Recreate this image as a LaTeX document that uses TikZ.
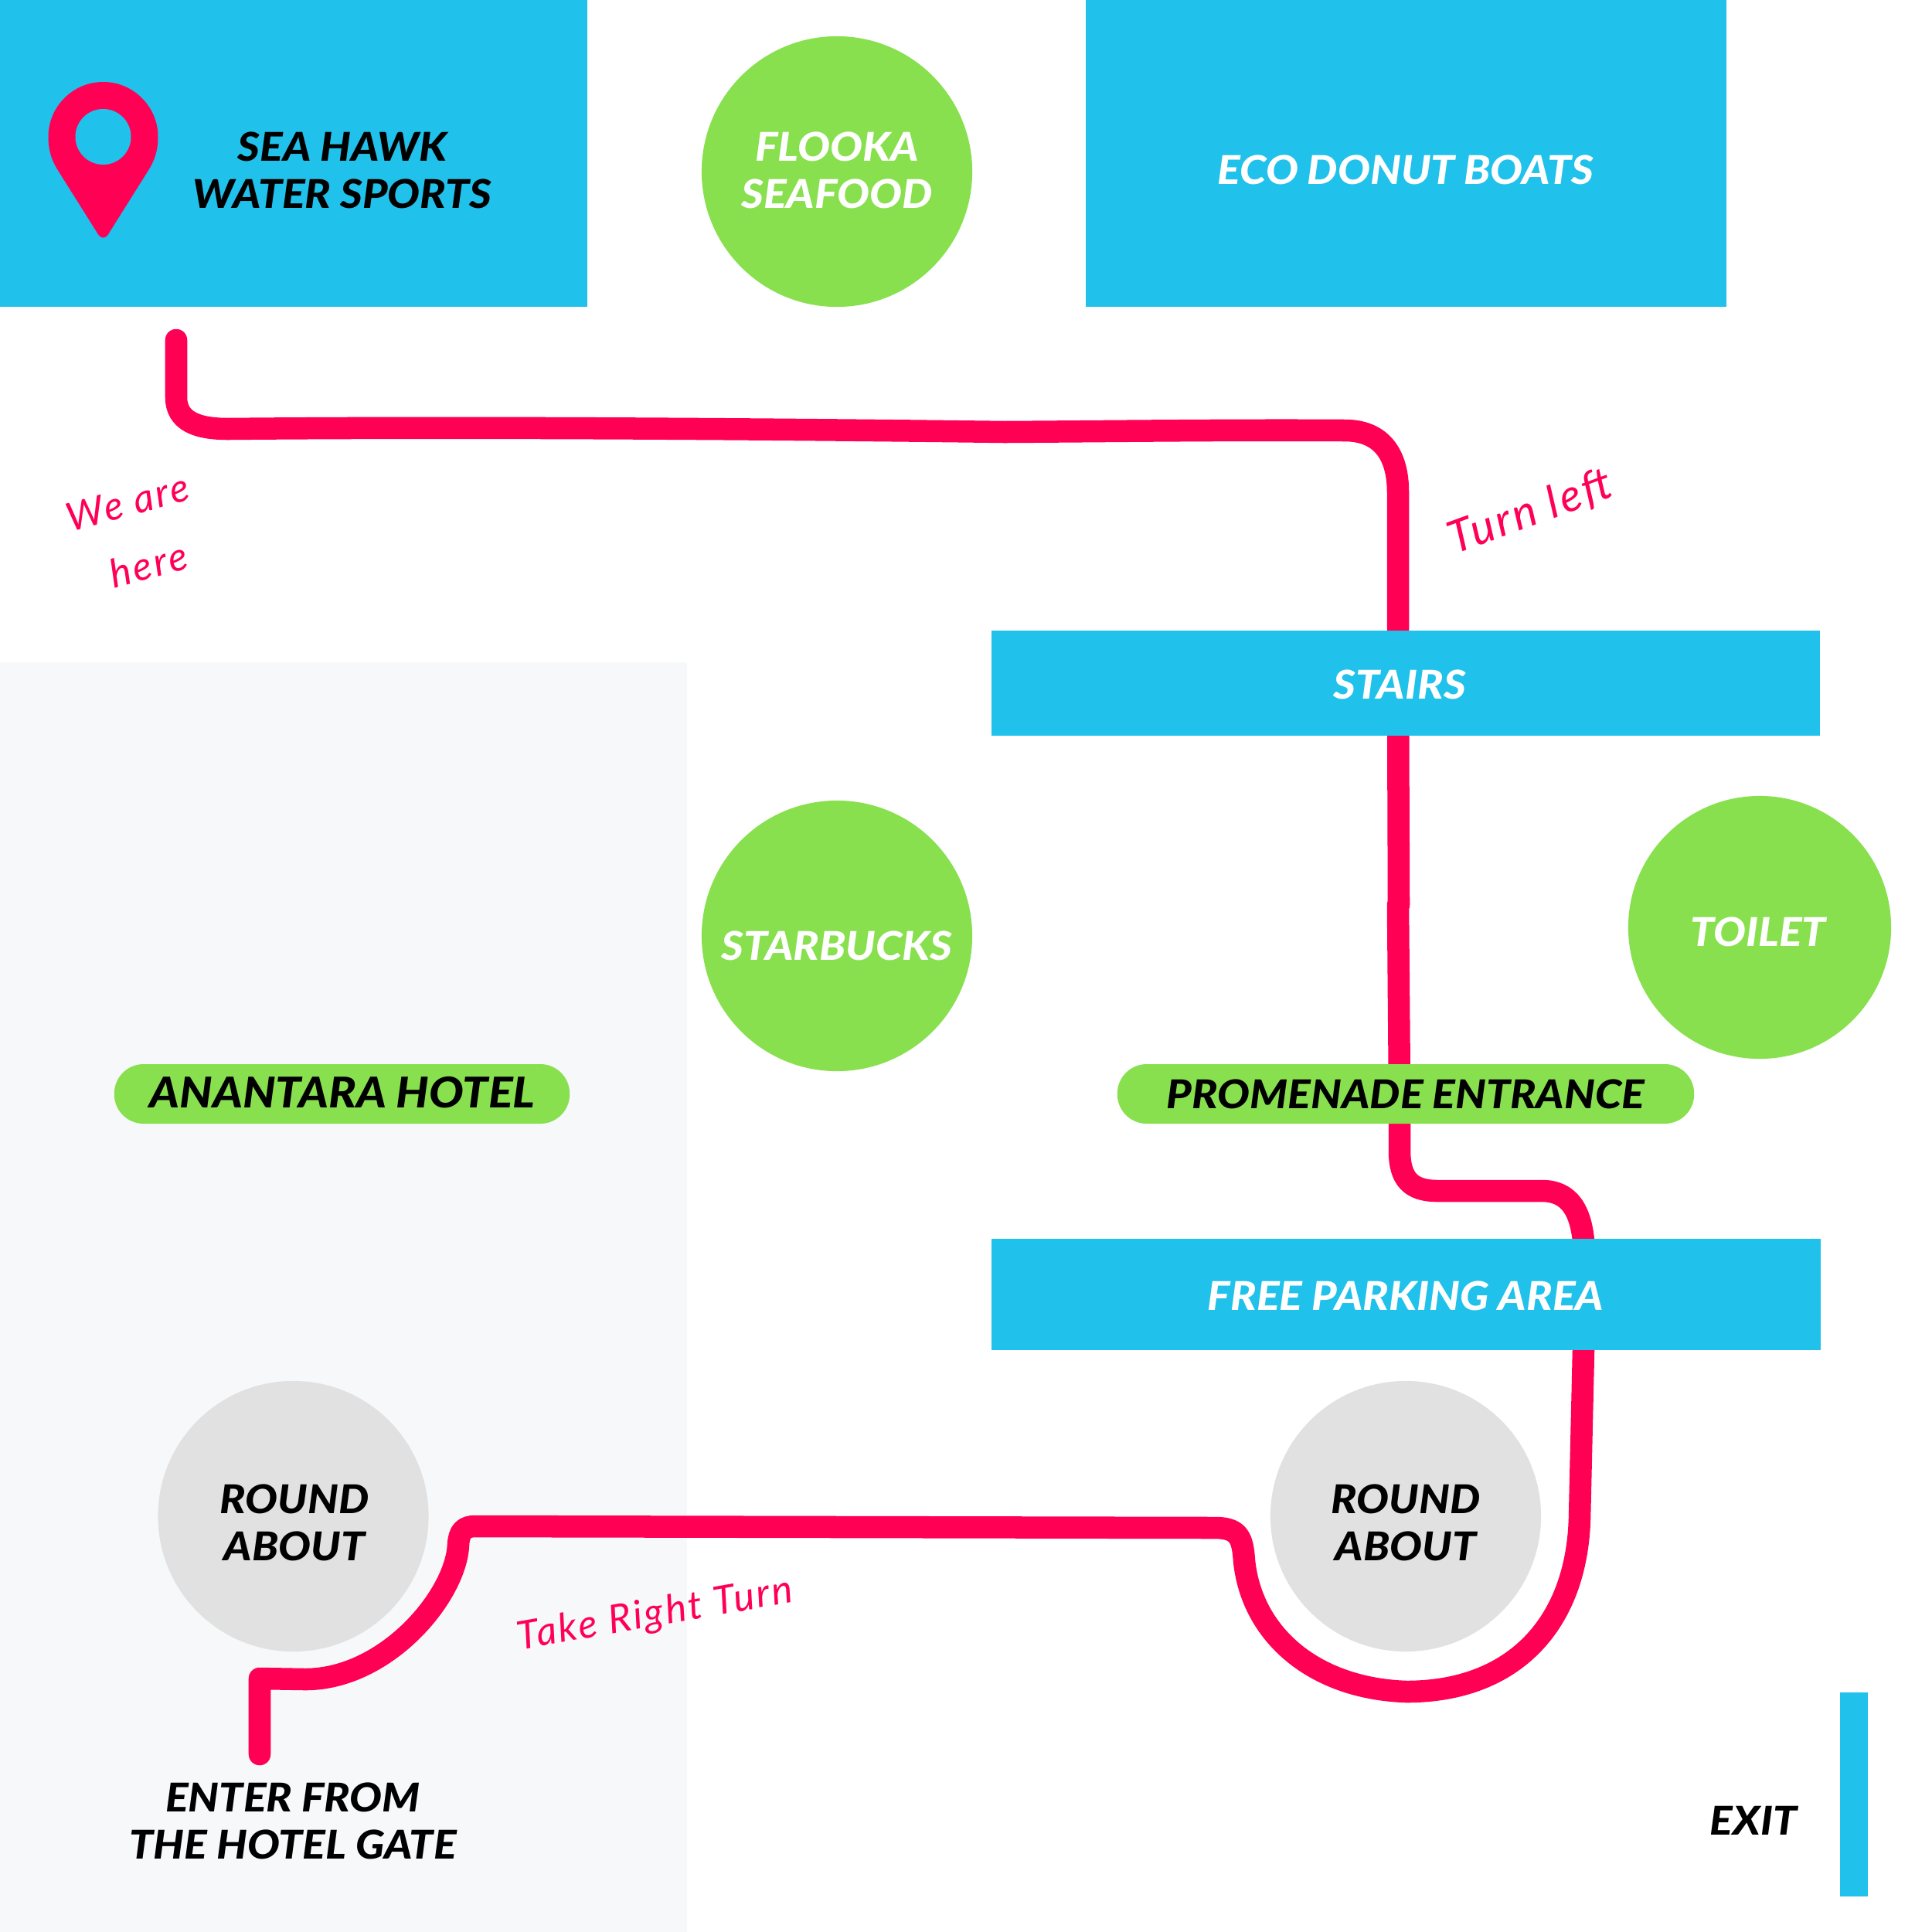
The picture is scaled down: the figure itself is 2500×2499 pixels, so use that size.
\documentclass[tikz,border=0pt]{standalone}
\usepackage{fontspec}
\setmainfont{Lato}[BoldItalicFont={Lato Black Italic},BoldItalicFeatures={FakeStretch=1.08}]
\newfontfamily\handfont[LetterSpace=6]{Lato}
\usetikzlibrary{backgrounds}
\definecolor{skyb}{HTML}{20C1EB}
\definecolor{leaf}{HTML}{88E04F}
\definecolor{hotp}{HTML}{FF0055}
\definecolor{greyc}{HTML}{E1E1E1}
\definecolor{panelc}{HTML}{F6F8FA}
\tikzset{
  shapebase/.style={inner sep=0pt,outer sep=0pt,align=center,draw=none},
  bluebox/.style={shapebase,rectangle,fill=skyb},
  greencirc/.style={shapebase,circle,fill=leaf},
  greycirc/.style={shapebase,circle,fill=greyc,minimum size=3.5cm},
  greenpill/.style={shapebase,rectangle,rounded corners=0.38cm,fill=leaf,minimum height=0.77cm},
  tag/.style={inner sep=0pt,outer sep=0pt,align=center,font=\bfseries\itshape\fontsize{14.6}{17.3}\selectfont},
  hand/.style={inner sep=0pt,outer sep=0pt,text=hotp,font=\handfont\itshape\fontsize{14.5}{16}\selectfont},
  routeline/.style={draw=hotp,line width=0.285cm,line join=round}
}
\begin{document}
\begin{tikzpicture}[x=0.01cm,y=-0.01cm]
\useasboundingbox (0,0) rectangle (2500,2499);

% boxes
\node[bluebox,minimum width=7.6cm,minimum height=3.97cm] (seahawk) at (380,198.5) {};
\node[bluebox,minimum width=8.29cm,minimum height=3.97cm] (eco) at (1819.5,198.5) {};
\node[bluebox,minimum width=10.72cm,minimum height=1.36cm] (stairs) at (1819,884) {};
\node[bluebox,minimum width=10.73cm,minimum height=1.44cm] (parking) at (1819.5,1675) {};
\node[bluebox,minimum width=0.36cm,minimum height=2.64cm] (exitbar) at (2399,2322) {};

% circles
\node[greencirc,minimum size=3.5cm] (flooka) at (1083,222) {};
\node[greencirc,minimum size=3.5cm] (starbucks) at (1083,1211) {};
\node[greencirc,minimum size=3.4cm] (toilet) at (2277,1200) {};
\node[greycirc] (roundL) at (379.5,1962) {};
\node[greycirc] (roundR) at (1819,1962) {};

% pills
\node[greenpill,minimum width=5.89cm] (anantara) at (442.5,1415.5) {};
\node[greenpill,minimum width=7.46cm] (promenade) at (1819,1415.5) {};

% labels
\node[tag,text=black] (seahawkt) at (443,220) {SEA HAWK\\WATER SPORTS};
\node[tag,text=white] (flookat) at (1083,220) {FLOOKA\\SEAFOOD};
\node[tag,text=white] (ecot) at (1819,220) {ECO DONUT BOATS};
\node[tag,text=white] (stairst) at (1811,886) {STAIRS};
\node[tag,text=white] (parkingt) at (1819,1677) {FREE PARKING AREA};
\node[tag,text=white] (starbuckst) at (1083,1224) {STARBUCKS};
\node[tag,text=white] (toilett) at (2275,1206) {TOILET};
\node[tag,text=black,font=\bfseries\itshape\fontsize{15.6}{17.3}\selectfont] (anantarat) at (443,1414) {ANANTARA HOTEL};
\node[tag,text=black] (promenadet) at (1819,1416) {PROMENADE ENTRANCE};
\node[tag,text=black] (roundLt) at (381,1970) {ROUND\\ABOUT};
\node[tag,text=black] (roundRt) at (1819,1970) {ROUND\\ABOUT};
\node[tag,text=black] (entert) at (379,2356) {ENTER FROM\\THE HOTEL GATE};
\node[tag,text=black] (exitt) at (2269,2356) {EXIT};

% handwritten notes
\node[hand,rotate=15] (weare) at (165,650) {We are};
\node[hand,rotate=15] (here) at (192,730) {here};
\node[hand,rotate=20,font=\handfont\itshape\fontsize{16.5}{18}\selectfont] (turnleft) at (1980,663) {Turn left};
\node[hand,rotate=10] (takeright) at (848,2090) {Take Right Turn};

% pin
\fill[hotp] (62.5,177) .. controls (62.5,195) and (67,208) .. (76,222)
  -- (125,300) .. controls (130,310) and (137,310) .. (142,300)
  -- (191,222) .. controls (200,208) and (204.5,195) .. (204.5,177)
  .. controls (204.5,138) and (172.5,106) .. (133.5,106)
  .. controls (94.5,106) and (62.5,138) .. (62.5,177) -- cycle;
\fill[skyb] (133.5,177) circle (36);

\begin{scope}[on background layer]
  \node[rectangle,inner sep=0pt,outer sep=0pt,fill=panelc,minimum width=8.89cm,minimum height=16.42cm] (panel) at (444.5,1678) {};
  \coordinate (here0) at (228,440);
  \coordinate (gate) at (336,2270);
  \draw[routeline,line cap=round] (here0) -- (228,514)
    .. controls (228,545) and (255,555) .. (295,555)
    .. controls (600,552) and (1000,555) .. (1300,559)
    .. controls (1450,558) and (1600,556) .. (1740,557)
    .. controls (1785,557) and (1809,585) .. (1809,637)
    -- (1809,0 |- stairs.center);
  \draw[routeline] (1809,0 |- stairs.center) -- (1810,1171) -- (1809,1171) -- (1811,0 |- promenade.center);
  \draw[routeline] (1811,0 |- promenade.center) -- (1811,1489)
    .. controls (1811,1525) and (1825,1541) .. (1860,1541)
    -- (1995,1541)
    .. controls (2030,1541) and (2048,1565) .. (2050,1620)
    -- (2050,0 |- parking.center);
  \draw[routeline,line cap=round] (2050,0 |- parking.center) -- (2049,1747) -- (2044,1965)
    .. controls (2040,2100) and (1960,2189) .. (1820,2189)
    .. controls (1700,2185) and (1620,2115) .. (1610,2020)
    .. controls (1608,1990) and (1603,1978) .. (1575,1977)
    -- (615,1975)
    .. controls (600,1975) and (594,1982) .. (593,1999)
    .. controls (590,2065) and (500,2173) .. (395,2173)
    -- (336,2172) -- (gate);
\end{scope}
\end{tikzpicture}
\end{document}
